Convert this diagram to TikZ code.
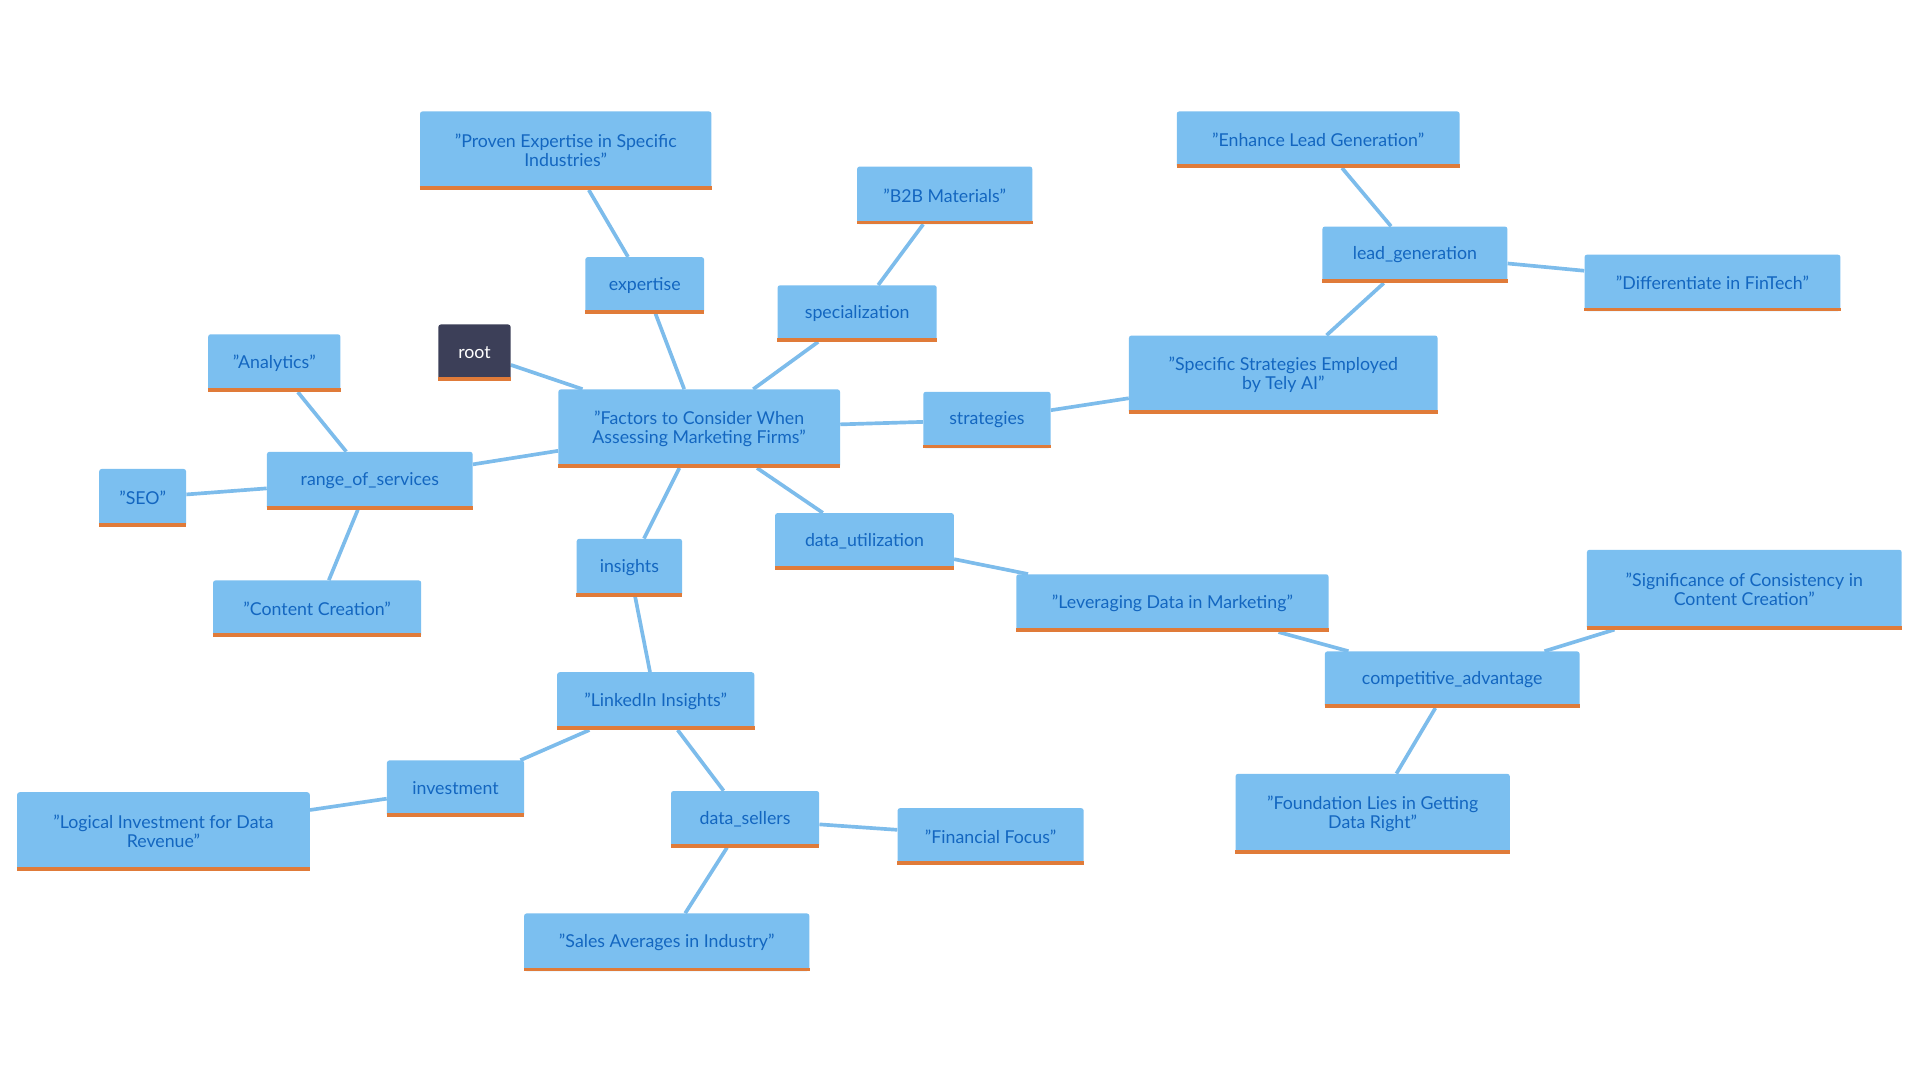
\documentclass[tikz,border=0pt]{standalone}
\usepackage{fontspec}
\setmainfont{Lato}
\usetikzlibrary{backgrounds}
\definecolor{boxfill}{HTML}{7BBFF0}
\definecolor{boxtext}{HTML}{1366C0}
\definecolor{boxline}{HTML}{E07B39}
\definecolor{linkcol}{HTML}{7DBCEB}
\definecolor{rootfill}{HTML}{3C3F58}
\tikzset{
  mapbox/.style={fill=boxfill, text=boxtext, rounded corners=2pt, align=center,
    inner sep=0pt, font=\fontsize{14.5}{15.5}\selectfont},
  rootbox/.style={mapbox, fill=rootfill, text=white},
  link/.style={draw=linkcol, line width=3pt}
}
% box: name, left, top, right, bottom, text
\newcommand{\mapnode}[7][mapbox]{%
  \node[#1, minimum width={#5-#3}, minimum height={#6-#4}] (#2) at ({(#3+#5)/2},{(#4+#6)/2}) {#7};
  \draw[boxline, line width=3pt] ([yshift=1.5pt]#2.south west) -- ([yshift=1.5pt]#2.south east);
}
\begin{document}
\begin{tikzpicture}[x=1pt, y=-1pt]
\useasboundingbox (0,0) rectangle (1568,882);
\mapnode[rootbox]{root}{358}{265}{417}{311}{root}
\mapnode{factors}{456}{318}{686}{382}{"Factors to Consider When\\Assessing Marketing Firms"}
\mapnode{expertise}{478}{210}{575}{256}{expertise}
\mapnode{proven}{343}{91}{581}{155}{"Proven Expertise in Specific\\Industries"}
\mapnode{specialization}{635}{233}{765}{279}{specialization}
\mapnode{btob}{700}{136}{843}{183}{"B2B Materials"}
\mapnode{strategies}{754}{320}{858}{366}{strategies}
\mapnode{specific}{922}{274}{1174}{338}{"Specific Strategies Employed\\by Tely AI"}
\mapnode{leadgen}{1080}{185}{1231}{231}{lead\_generation}
\mapnode{enhance}{961}{91}{1192}{137}{"Enhance Lead Generation"}
\mapnode{differ}{1294}{208}{1503}{254}{"Differentiate in FinTech"}
\mapnode{datautil}{633}{419}{779}{465}{data\_utilization}
\mapnode{leveraging}{830}{469}{1085}{516}{"Leveraging Data in Marketing"}
\mapnode{compadv}{1082}{532}{1290}{578}{competitive\_advantage}
\mapnode{signif}{1296}{449}{1553}{514}{"Significance of Consistency in\\Content Creation"}
\mapnode{foundation}{1009}{632}{1233}{697}{"Foundation Lies in Getting\\Data Right"}
\mapnode{insights}{471}{440}{557}{487}{insights}
\mapnode{linkedin}{455}{549}{616}{596}{"LinkedIn Insights"}
\mapnode{investment}{316}{621}{428}{667}{investment}
\mapnode{logical}{14}{647}{253}{711}{"Logical Investment for Data\\Revenue"}
\mapnode{sellers}{548}{646}{669}{692}{data\_sellers}
\mapnode{financial}{733}{660}{885}{706}{"Financial Focus"}
\mapnode{sales}{428}{746}{661}{793}{"Sales Averages in Industry"}
\mapnode{range}{218}{369}{386}{416}{range\_of\_services}
\mapnode{analytics}{170}{273}{278}{320}{"Analytics"}
\mapnode{seo}{81}{383}{152}{430}{"SEO"}
\mapnode{content}{174}{474}{344}{520}{"Content Creation"}
\begin{scope}[on background layer]
\foreach \a/\b in {root/factors, factors/expertise, expertise/proven,
  factors/specialization, specialization/btob, factors/strategies,
  strategies/specific, specific/leadgen, leadgen/enhance, leadgen/differ,
  factors/datautil, datautil/leveraging, leveraging/compadv, compadv/signif,
  compadv/foundation, factors/insights, insights/linkedin, linkedin/investment,
  investment/logical, linkedin/sellers, sellers/financial, sellers/sales,
  factors/range, range/analytics, range/seo, range/content}
  \draw[link] (\a) -- (\b);
\end{scope}
\end{tikzpicture}
\end{document}
